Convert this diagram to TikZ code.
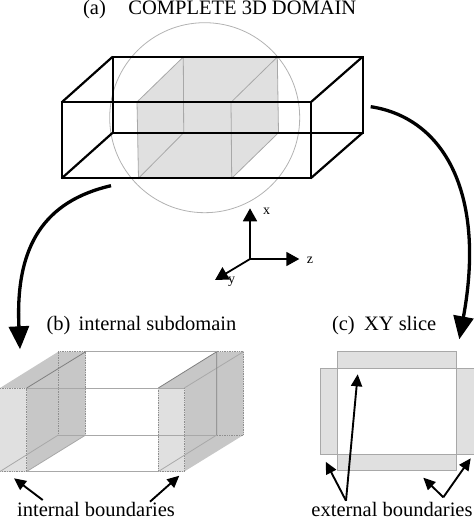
\documentclass[tikz,border=0pt]{standalone}
\usepackage{fontspec}
\setmainfont{Liberation Serif}
\usetikzlibrary{arrows.meta}
\definecolor{cface}{gray}{0.88}
\definecolor{cside}{gray}{0.78}
\definecolor{cedge}{gray}{0.66}
\tikzset{
  boxline/.style={line width=2.2pt,black,line join=miter},
  thinedge/.style={line width=0.8pt,cedge},
  dotedge/.style={line width=0.7pt,cedge!85!black,densely dotted},
  bigarrow/.style={line width=3.3pt,-{Triangle[length=23pt,width=20pt]}},
  smallarrow/.style={line width=1.9pt,-{Triangle[length=12pt,width=11pt]}},
  axisarrow/.style={line width=1.8pt,-{Triangle[length=13pt,width=14pt]}},
  titlelabel/.style={font=\fontsize{20.5}{22}\selectfont,inner sep=0pt,anchor=base},
  axislabel/.style={font=\fontsize{14}{15}\selectfont,inner sep=0pt},
}
\begin{document}
\begin{tikzpicture}[x=1pt,y=-1pt]
  \useasboundingbox (0,0) rectangle (474,521);
  % (a) whole domain
  \fill[cface] (137,102) -- (183.3,57) -- (277.3,57) -- (278.5,132.7) -- (231.7,178.3) -- (138.5,178.3) -- cycle;
  \draw[thinedge] (137,102) -- (183.3,57) -- (183.7,132.7) -- (138.5,178.3) -- cycle;
  \draw[thinedge] (231,102.3) -- (277.3,57) -- (278.5,132.7) -- (231.7,178.3) -- cycle;
  \draw[line width=0.8pt,black!30] (204.7,117.7) circle (95);
  \draw[boxline] (61.7,102.3) rectangle (310.7,178.3);
  \draw[boxline] (112.7,56.7) rectangle (362.7,132.7);
  \draw[boxline] (61.7,102.3) -- (112.7,56.7);
  \draw[boxline] (310.7,102.3) -- (362.7,56.7);
  \draw[boxline] (61.7,178.3) -- (112.7,132.7);
  \draw[boxline] (310.7,178.3) -- (362.7,132.7);
  \node[titlelabel] (titlea) at (219.7,14.8) {(a)\hspace{1.1em}COMPLETE 3D DOMAIN};

  % axes
  \coordinate (origin) at (250,259);
  \coordinate (xend) at (250,208.3);
  \coordinate (zend) at (299.3,259);
  \coordinate (yend) at (215,280);
  \draw[axisarrow] (origin) -- (xend);
  \draw[axisarrow] (origin) -- (zend);
  \draw[axisarrow] (origin) -- (yend);
  \node[axislabel] (xlabel) at (266.7,211) {x};
  \node[axislabel] (zlabel) at (310,260) {z};
  \node[axislabel] (ylabel) at (231.5,282) {y};

  % curved arrows down to the two panels
  \coordinate (leftstart) at (111,185.7);
  \coordinate (lefttip) at (20,349.3);
  \coordinate (rightstart) at (370.7,106.7);
  \coordinate (righttip) at (459.3,339.3);
  \draw[bigarrow] (leftstart) .. controls (45,201) and (15,245) .. (lefttip);
  \draw[bigarrow] (rightstart) .. controls (445,118) and (486,195) .. (righttip);

  % (b) internal subdomain, left slab
  \fill[cside] (0,388) -- (58.3,351.7) -- (85.7,351.7) -- (26.7,388) -- cycle;
  \fill[cside] (26.7,388) -- (85.7,351.7) -- (85.7,435) -- (26.7,471.5) -- cycle;
  \fill[cface] (0,388) rectangle (26.7,471.5);
  \draw[dotedge] (58.3,351.7) -- (85.7,351.7) -- (85.7,435) -- (58.3,435) -- cycle;
  \draw[dotedge] (0,388) -- (26.7,388) -- (26.7,471.5) -- (0,471.5);
  \draw[thinedge,black!50] (26.7,388) -- (85.7,351.7);
  \draw[thinedge] (0,471.5) -- (58.3,435);
  % (b) right slab
  \fill[cface] (158.3,388) rectangle (184.3,471.5);
  \fill[cside] (158.3,388) -- (216.7,351.7) -- (243.5,351.7) -- (184.3,388) -- cycle;
  \fill[cside] (184.3,388) -- (243.5,351.7) -- (243.5,435) -- (184.3,471.5) -- cycle;
  \draw[dotedge] (158.3,388) rectangle (184.3,471.5);
  \draw[dotedge] (216.7,351.7) -- (243.5,351.7) -- (243.5,435) -- (216.7,435);
  \draw[thinedge] (184.3,388) -- (243.5,351.7);
  \draw[thinedge] (158.3,471.5) -- (216.7,435);
  \draw[thinedge,black!50] (158.3,388) -- (216.7,351.7) -- (216.7,435);
  % (b) edges of the box between the slabs
  \draw[thinedge] (85.7,351.7) -- (216.7,351.7);
  \draw[thinedge] (58.3,435) -- (216.7,435);
  \draw[thinedge] (26.7,388) -- (184.3,388);
  \draw[thinedge] (26.7,471.5) -- (158.3,471.5);
  \draw[thinedge] (26.7,471.5) -- (85.7,435);
  \node[titlelabel] (titleb) at (141.5,330.5) {(b)\hspace{0.4em}internal subdomain};

  \coordinate (ibleftfrom) at (42.7,500);
  \coordinate (ibleftto) at (14,478.3);
  \coordinate (ibrightfrom) at (150,501.7);
  \coordinate (ibrightto) at (179.3,475.7);
  \draw[smallarrow] (ibleftfrom) -- (ibleftto);
  \draw[smallarrow] (ibrightfrom) -- (ibrightto);
  \node[titlelabel] (internal) at (96,516) {internal boundaries};

  % (c) XY slice
  \fill[cface] (337.3,351.7) rectangle (456.7,470.7);
  \fill[cface] (320.7,368.3) rectangle (474,454);
  \fill[white] (337.3,368.3) rectangle (456.7,454);
  \draw[thinedge] (337.3,351.7) rectangle (456.7,470.7);
  \draw[thinedge] (474,368.3) -- (320.7,368.3) -- (320.7,454) -- (474,454);
  \node[titlelabel] (titlec) at (384.2,330.5) {(c)\hspace{0.45em}XY slice};

  \coordinate (ebapex) at (346,500.7);
  \coordinate (ebtop) at (357.7,374.3);
  \coordinate (ebleft) at (325.7,461.7);
  \coordinate (ebmid) at (443.3,497.3);
  \coordinate (ebbottom) at (423.3,477.7);
  \coordinate (ebright) at (470.7,458.3);
  \draw[smallarrow] (ebapex) -- (ebtop);
  \draw[smallarrow] (ebapex) -- (ebleft);
  \draw[smallarrow] (ebmid) -- (ebbottom);
  \draw[smallarrow] (ebmid) -- (ebright);
  \node[titlelabel] (external) at (392,516) {external boundaries};
\end{tikzpicture}
\end{document}
